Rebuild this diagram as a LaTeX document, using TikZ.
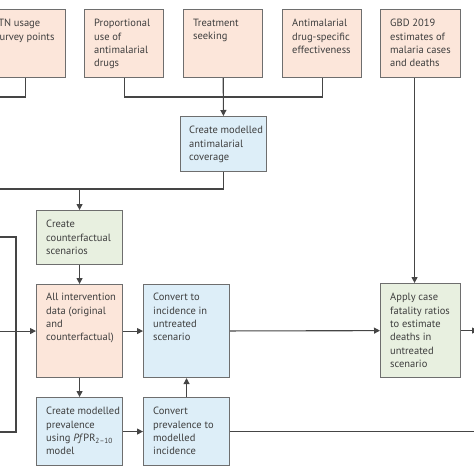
\documentclass[tikz,border=0pt]{standalone}
\usepackage{fontspec}
\setmainfont{PT Sans}
\usetikzlibrary{positioning,calc,arrows.meta}
\definecolor{inbox}{HTML}{FCE6DA}
\definecolor{modbox}{HTML}{DDEEF8}
\definecolor{stepfill}{HTML}{E8F0E0}
\definecolor{edge}{HTML}{6E6E6E}
\definecolor{wirecol}{HTML}{454545}
\definecolor{ink}{HTML}{3E3E3E}
\tikzset{font=\fontsize{10.5}{13.4}\selectfont}
\tikzset{
	box/.style={draw=edge, line width=1.1pt, anchor=north west, inner sep=0pt},
	txt/.style={anchor=north west, align=left, inner sep=0pt, text=ink},
	wire/.style={draw=wirecol, line width=1.1pt},
	arr/.style={wire, -{Triangle[length=6pt,width=6pt]}}
}

\begin{document}
\begin{tikzpicture}[x=1pt,y=-1pt]
	\useasboundingbox (0,0) rectangle (474,474);
	% input data
	\node[box, fill=inbox, minimum width=80, minimum height=68] (itn) at (-15,9) {};
	\node[box, fill=inbox, minimum width=79, minimum height=68] (use) at (84,9) {};
	\node[box, fill=inbox, minimum width=79, minimum height=68] (treat) at (183,9) {};
	\node[box, fill=inbox, minimum width=79, minimum height=68] (eff) at (282,9) {};
	\node[box, fill=inbox, minimum width=80, minimum height=68] (gbd) at (380,9) {};
	% modelling steps
	\node[box, fill=modbox, minimum width=86, minimum height=55] (cov) at (180,116) {};
	\node[box, fill=stepfill, minimum width=86, minimum height=54] (cf) at (36,210) {};
	\node[box, fill=inbox, minimum width=86, minimum height=93] (all) at (36,284) {};
	\node[box, fill=modbox, minimum width=86, minimum height=93] (inc) at (143,284) {};
	\node[box, fill=modbox, minimum width=86, minimum height=68] (prev) at (36,397) {};
	\node[box, fill=modbox, minimum width=86, minimum height=68] (conv) at (143,397) {};
	\node[box, fill=stepfill, minimum width=80, minimum height=94] (cfr) at (380,283) {};

	\node[txt] (itn-t) at ([xshift=10pt,yshift=-10pt]itn.north west) {ITN usage\\survey points};
	\node[txt] (use-t) at ([xshift=10pt,yshift=-10pt]use.north west) {Proportional\\use of\\antimalarial\\drugs};
	\node[txt] (treat-t) at ([xshift=10pt,yshift=-10pt]treat.north west) {Treatment\\seeking};
	\node[txt] (eff-t) at ([xshift=10pt,yshift=-10pt]eff.north west) {Antimalarial\\drug-specific\\effectiveness};
	\node[txt] (gbd-t) at ([xshift=10pt,yshift=-10pt]gbd.north west) {GBD 2019\\estimates of\\malaria cases\\and deaths};
	\node[txt] (cov-t) at ([xshift=9pt,yshift=-10pt]cov.north west) {Create modelled\\antimalarial\\coverage};
	\node[txt] (cf-t) at ([xshift=10pt,yshift=-10pt]cf.north west) {Create\\counterfactual\\scenarios};
	\node[txt] (all-t) at ([xshift=10pt,yshift=-9pt]all.north west) {All intervention\\data (original\\and\\counterfactual)};
	\node[txt] (inc-t) at ([xshift=10pt,yshift=-9pt]inc.north west) {Convert to\\incidence in\\untreated\\scenario};
	\node[txt] (prev-t) at ([xshift=10pt,yshift=-10pt]prev.north west) {Create modelled\\prevalence\\using \textit{Pf}PR\textsubscript{2–10}\\model};
	\node[txt] (conv-t) at ([xshift=10pt,yshift=-10pt]conv.north west) {Convert\\prevalence to\\modelled\\incidence};
	\node[txt] (cfr-t) at ([xshift=10pt,yshift=-10pt]cfr.north west) {Apply case\\fatality ratios\\to estimate\\deaths in\\untreated\\scenario};

	% loose ends beyond the frame
	\coordinate (j1) at (treat.south |- 0,97);
	\coordinate (l1) at (-10,97);
	\coordinate (l2) at (-10,189);
	\coordinate (l3) at (-10,237);
	\coordinate (l4) at (16,237);
	\coordinate (l5) at (16,432);
	\coordinate (l6) at (-10,432);
	\coordinate (l7) at (-10,0);
	\coordinate (r1) at (484,0);
	\coordinate (r2) at (478,0);

	\draw[wire] (itn.south) |- (l1);
	\draw[wire] (use.south) |- (j1) -| (eff.south);
	\draw[arr ] (treat) -- (cov);
	\draw[arr ] ([xshift=-6pt]gbd.south) -- ([xshift=-6pt]cfr.north);
	\draw[wire] (cov.south) |- (l2);
	\draw[arr ] (cf.north |- l2) -- (cf.north);
	\draw[wire] (l3) -- (l4) -- (l5) -- (l6);
	\draw[arr ] (all.west -| l7) -- (all.west);
	\draw[arr ] (cf) -- (all);
	\draw[arr ] (all) -- (inc);
	\draw[arr ] (all) -- (prev);
	\draw[arr ] (prev) -- (conv);
	\draw[arr ] (conv) -- (inc);
	\draw[arr ] (inc) -- (cfr);
	\draw[wire] (conv.east) -- (conv.east -| r1);
	\draw[arr ] (cfr.east) -- (cfr.east -| r2);
\end{tikzpicture}
\end{document}
